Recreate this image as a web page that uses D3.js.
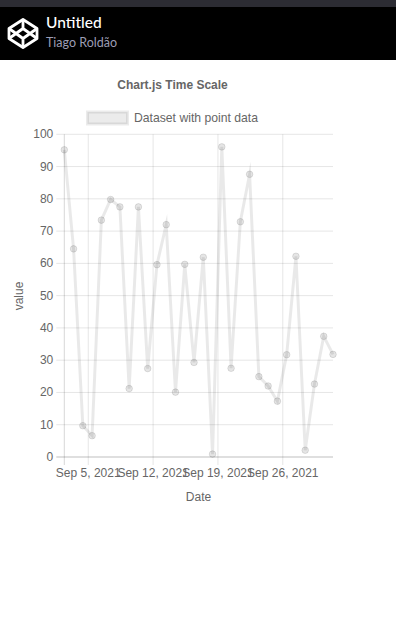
<!DOCTYPE html>
<html>
<head>
<meta charset="utf-8">
<title>Chart.js Time Scale</title>
<script src="https://cdn.jsdelivr.net/npm/d3@7"></script>
<style>
  html, body { margin: 0; padding: 0; background: #fff; }
  svg { display: block; }
  .tick-label { font-family: "Liberation Sans", Arial, sans-serif; font-size: 12px; fill: #666; }
</style>
</head>
<body>
<div id="chart"></div>
<script>
// one reading per day, starting 2 Sep 2021 ~10:00
var dates = ["2021-09-02T10:00Z","2021-09-03T10:00Z","2021-09-04T10:00Z","2021-09-05T10:00Z","2021-09-06T10:00Z",
  "2021-09-07T10:00Z","2021-09-08T10:00Z","2021-09-09T10:00Z","2021-09-10T10:00Z","2021-09-11T10:00Z",
  "2021-09-12T10:00Z","2021-09-13T10:00Z","2021-09-14T10:00Z","2021-09-15T10:00Z","2021-09-16T10:00Z",
  "2021-09-17T10:00Z","2021-09-18T10:00Z","2021-09-19T10:00Z","2021-09-20T10:00Z","2021-09-21T10:00Z",
  "2021-09-22T10:00Z","2021-09-23T10:00Z","2021-09-24T10:00Z","2021-09-25T10:00Z","2021-09-26T10:00Z",
  "2021-09-27T10:00Z","2021-09-28T10:00Z","2021-09-29T10:00Z","2021-09-30T10:00Z","2021-10-01T10:00Z"];
var values = [95.2, 64.5, 9.7, 6.6, 73.4, 79.8, 77.5, 21.2, 77.5, 27.4,
  59.6, 72.0, 20.1, 59.7, 29.3, 61.9, 0.9, 96.1, 27.5, 72.9,
  87.6, 24.9, 22.0, 17.3, 31.7, 62.2, 2.1, 22.6, 37.4, 31.8];
var xTickDates = ["2021-09-05T00:00Z", "2021-09-12T00:00Z", "2021-09-19T00:00Z", "2021-09-26T00:00Z"];
var xTickLabels = ["Sep 5, 2021", "Sep 12, 2021", "Sep 19, 2021", "Sep 26, 2021"];
var yTicks = [0, 10, 20, 30, 40, 50, 60, 70, 80, 90, 100];

var W = 396, H = 619;
var left = 64.3, right = 333, top_ = 134.3, bottom = 457;
var grid = "rgba(0,0,0,0.1)", ink = "#666";
var uiFont = '"Liberation Sans", Arial, sans-serif';

var svg = d3.select("#chart").append("svg").attr("width", W).attr("height", H);

// ---- pen header ----
svg.append("rect").attr("width", W).attr("height", 60).attr("fill", "#000");
svg.append("rect").attr("width", W).attr("height", 7).attr("fill", "#2c2c33");

var logo = svg.append("g").attr("transform", "translate(23,33.5)")
  .attr("fill", "none").attr("stroke", "#fff").attr("stroke-width", 2.8).attr("stroke-linejoin", "round");
logo.append("path").attr("d", "M0,-14 L14,-5 L14,5 L0,14 L-14,5 L-14,-5 Z");
logo.append("path").attr("d", "M0,-14 V-5 M0,5 V14 M-14,-5 L0,5 L14,-5 M-14,5 L0,-5 L14,5");

svg.append("text").attr("x", 46).attr("y", 28).attr("fill", "#fff")
  .attr("font-family", "Lato, sans-serif").attr("font-size", 15.5).attr("font-weight", 500).text("Untitled");
svg.append("text").attr("x", 46).attr("y", 47).attr("fill", "#9c9db4")
  .attr("font-family", "Lato, sans-serif").attr("font-size", 12.5).text("Tiago Roldão");

// ---- scales ----
var parse = function (s) { return new Date(s); };
var x = d3.scaleUtc().domain([parse(dates[0]), parse(dates[dates.length - 1])]).range([left, right]);
var y = d3.scaleLinear().domain([0, 100]).range([bottom, top_]);

// ---- title + legend ----
svg.append("text").attr("x", 172.5).attr("y", 89).attr("text-anchor", "middle")
  .attr("font-family", uiFont).attr("font-size", 12).attr("font-weight", 700).attr("fill", ink)
  .text("Chart.js Time Scale");
svg.append("rect").attr("x", 87.5).attr("y", 112).attr("width", 40).attr("height", 12)
  .attr("fill", "rgba(0,0,0,0.08)").attr("stroke", "rgba(0,0,0,0.08)").attr("stroke-width", 3);
svg.append("text").attr("class", "tick-label").attr("x", 134).attr("y", 122)
  .style("font-size", "12.2px").text("Dataset with point data");

// ---- grid ----
var g = svg.append("g");
g.selectAll(".gy").data(yTicks).enter().append("line").attr("class", "gy")
  .attr("x1", left - 8).attr("x2", right)
  .attr("y1", function (d) { return y(d); }).attr("y2", function (d) { return y(d); })
  .attr("stroke", function (d) { return d === 0 ? "rgba(0,0,0,0.25)" : grid; });
g.selectAll(".gx").data(xTickDates).enter().append("line").attr("class", "gx")
  .attr("x1", function (d) { return x(parse(d)); }).attr("x2", function (d) { return x(parse(d)); })
  .attr("y1", top_).attr("y2", bottom + 8)
  .attr("stroke", grid);
g.append("line").attr("x1", left).attr("x2", left).attr("y1", top_).attr("y2", bottom + 8)
  .attr("stroke", "rgba(0,0,0,0.16)");

// ---- tick labels ----
svg.selectAll(".yl").data(yTicks).enter().append("text").attr("class", "tick-label yl")
  .attr("x", left - 11).attr("y", function (d) { return y(d) + 4; }).attr("text-anchor", "end")
  .text(function (d) { return d; });
svg.selectAll(".xl").data(xTickDates).enter().append("text").attr("class", "tick-label xl")
  .attr("x", function (d) { return x(parse(d)); }).attr("y", 477).attr("text-anchor", "middle")
  .text(function (d, i) { return xTickLabels[i]; });

svg.append("text").attr("class", "tick-label").attr("x", 198.5).attr("y", 501).attr("text-anchor", "middle").text("Date");
svg.append("text").attr("class", "tick-label").attr("text-anchor", "middle")
  .attr("transform", "translate(23,296) rotate(-90)").text("value");

// ---- line + points ----
var pts = dates.map(function (d, i) { return { t: parse(d), v: values[i] }; });
var line = d3.line().x(function (d) { return x(d.t); }).y(function (d) { return y(d.v); });
svg.append("path").datum(pts).attr("d", line)
  .attr("fill", "none").attr("stroke", "rgba(0,0,0,0.085)").attr("stroke-width", 3).attr("stroke-miterlimit", 10);
svg.selectAll(".pt").data(pts).enter().append("circle").attr("class", "pt")
  .attr("cx", function (d) { return x(d.t); }).attr("cy", function (d) { return y(d.v); })
  .attr("r", 3.3).attr("fill", "rgba(0,0,0,0.1)").attr("stroke", "rgba(0,0,0,0.1)").attr("stroke-width", 1);
</script>
</body>
</html>
